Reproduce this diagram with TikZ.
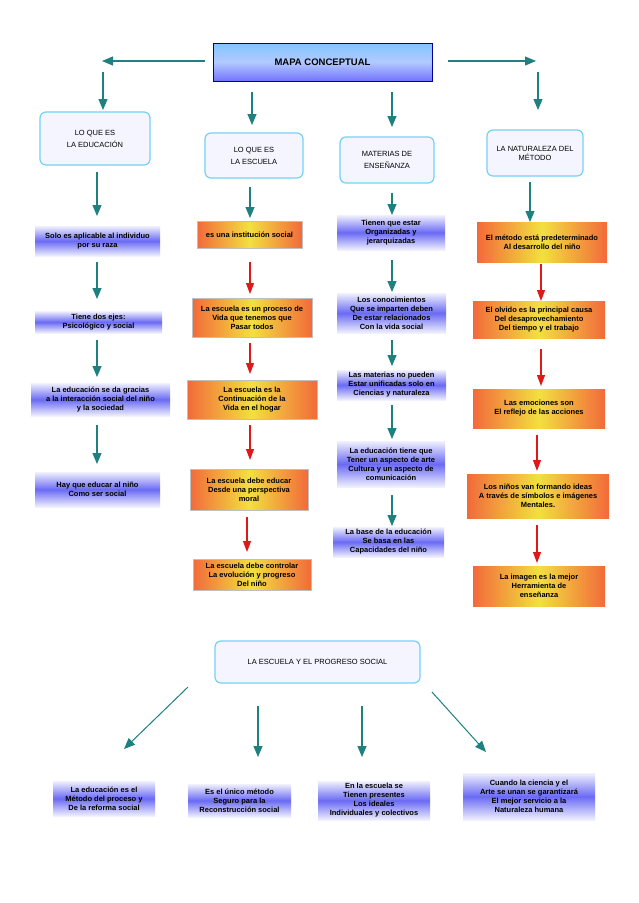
\documentclass[tikz,border=0pt]{standalone}
\usepackage{fontspec}
\setmainfont{Liberation Sans}
\usetikzlibrary{arrows.meta}
\definecolor{teal1}{HTML}{1F8080}
\definecolor{red1}{HTML}{E01818}
\definecolor{bl}{HTML}{5050F2}
\definecolor{or}{HTML}{F26A3A}
\definecolor{ye}{HTML}{F2E040}
\begin{document}
\begin{tikzpicture}[x=1pt,y=-1pt,
 base/.style={inner sep=0pt, align=center, font=\fontsize{7.5}{9}\selectfont\bfseries},
 blu/.style={base, top color=bl!8, bottom color=bl!8, middle color=bl!85},
 ora/.style={base, left color=or, right color=or, middle color=ye, draw=gray!50, line width=0.3pt},
 hdr/.style={base, font=\fontsize{7.5}{12}\selectfont, fill=blue!4, draw=cyan!55, line width=1.2pt, rounded corners=6pt},
 ta/.style={draw=teal1, line width=1.2pt, -{Triangle[length=11pt,width=9pt]}},
 ra/.style={draw=red1, line width=1.1pt, -{Triangle[length=11pt,width=8pt]}},
 bx/.style 2 args={minimum width=#1, minimum height=#2}]
\useasboundingbox (0,0) rectangle (638,903);
\fill[white] (0,0) rectangle (638,903);
% title
\node[base, font=\fontsize{9.5}{11}\selectfont\bfseries, top color=blue!45!cyan!50, bottom color=blue!55, middle color=cyan!30!blue!30, draw=blue!60!black, line width=0.5pt, bx={219}{38}] (t) at (322.5,62) {MAPA CONCEPTUAL};
% headers
\node[hdr, bx={110}{53}] (h1) at (95,138.5) {LO QUE ES\\LA EDUCACIÓN};
\node[hdr, bx={98}{45}] (h2) at (254,155.5) {LO QUE ES\\LA ESCUELA};
\node[hdr, bx={94}{46}] (h3) at (387,160) {MATERIAS DE\\ENSEÑANZA};
\node[hdr, font=\fontsize{7.5}{9}\selectfont, bx={96}{46}] (h4) at (535,153) {LA NATURALEZA DEL\\MÉTODO};
% top arrows
\coordinate (a1s) at (205,61); \coordinate (a1e) at (102,61);
\coordinate (a2s) at (103,72); \coordinate (a2e) at (103,110);
\coordinate (a3s) at (448,61); \coordinate (a3e) at (536,61);
\coordinate (a4s) at (538,72); \coordinate (a4e) at (538,110);
\coordinate (a5s) at (252,92); \coordinate (a5e) at (252,125);
\coordinate (a6s) at (392,92); \coordinate (a6e) at (392,127);
\draw[ta] (a1s)--(a1e); \draw[ta] (a2s)--(a2e);
\draw[ta] (a3s)--(a3e); \draw[ta] (a4s)--(a4e);
\draw[ta] (a5s)--(a5e); \draw[ta] (a6s)--(a6e);
% column 1
\node[blu, bx={125}{30}] (c11) at (97.5,241) {Solo es aplicable al individuo\\por su raza};
\node[blu, bx={127}{22}] (c12) at (98.5,322) {Tiene dos ejes:\\Psicológico y social};
\node[blu, bx={139}{33}] (c13) at (100.5,399.5) {La educación se da gracias\\a la interacción social del niño\\y la sociedad};
\node[blu, bx={125}{35}] (c14) at (97.5,489.5) {Hay que educar al niño\\Como ser social};
\foreach \a/\b/\n in {172/216/1,262/299/2,340/377/3,425/464/4}{
 \coordinate (p1\n) at (97,\a); \coordinate (q1\n) at (97,\b); \draw[ta] (p1\n)--(q1\n);}
% column 2
\node[ora, bx={105}{27}] (c21) at (249.5,234.5) {es una institución social};
\node[ora, bx={120}{39}] (c22) at (252,317.5) {La escuela es un proceso de\\Vida que tenemos que\\Pasar todos};
\node[ora, bx={130}{39}] (c23) at (252,399.5) {La escuela es la\\Continuación de la\\Vida en el hogar};
\node[ora, bx={118}{41}] (c24) at (249,489.5) {La escuela debe educar\\Desde una perspectiva\\moral};
\node[ora, bx={118}{31}] (c25) at (252,574.5) {La escuela debe controlar\\La evolución y progreso\\Del niño};
\coordinate (p20) at (250,187); \coordinate (q20) at (250,218); \draw[ta] (p20)--(q20);
\foreach \a/\b/\x/\n in {262/294/250/1,343/374/250/2,425/460/250/3,517/552/247/4}{
 \coordinate (p2\n) at (\x,\a); \coordinate (q2\n) at (\x,\b); \draw[ra] (p2\n)--(q2\n);}
% column 3
\node[blu, bx={108}{35}] (c31) at (391,232.5) {Tienen que estar\\Organizadas y\\jerarquizadas};
\node[blu, bx={109}{40}] (c32) at (391.5,313) {Los conocimientos\\Que se imparten deben\\De estar relacionados\\Con la vida social};
\node[blu, bx={109}{30}] (c33) at (391.5,385) {Las materias no pueden\\Estar unificadas solo en\\Ciencias y naturaleza};
\node[blu, bx={108}{46}] (c34) at (391,464) {La educación tiene que\\Tener un aspecto de arte\\Cultura y un aspecto de\\comunicación};
\node[blu, bx={111}{30}] (c35) at (388.5,542) {La base de la educación\\Se basa en las\\Capacidades del niño};
\foreach \a/\b/\n in {193/215/0,260/292/1,340/366/2,405/439/3,495/526/4}{
 \coordinate (p3\n) at (392,\a); \coordinate (q3\n) at (392,\b); \draw[ta] (p3\n)--(q3\n);}
% column 4
\node[ora, draw=none, bx={130}{40}] (c41) at (542,242) {El método está predeterminado\\Al desarrollo del niño};
\node[ora, draw=none, bx={132}{37}] (c42) at (539,319.5) {El olvido es la principal causa\\Del desaprovechamiento\\Del tiempo y el trabajo};
\node[ora, draw=none, bx={132}{39}] (c43) at (539,408.5) {Las emociones son\\El reflejo de las acciones};
\node[ora, draw=none, bx={142}{44}] (c44) at (538,496) {Los niños van formando ideas\\A través de símbolos e imágenes\\Mentales.};
\node[ora, draw=none, bx={132}{40}] (c45) at (539,586) {La imagen es la mejor\\Herramienta de\\enseñanza};
\coordinate (p40) at (530,182); \coordinate (q40) at (530,222); \draw[ta] (p40)--(q40);
\foreach \a/\b/\x/\n in {264/301/541/1,349/386/541/2,435/471/537/3,525/563/537/4}{
 \coordinate (p4\n) at (\x,\a); \coordinate (q4\n) at (\x,\b); \draw[ra] (p4\n)--(q4\n);}
% bottom
\node[hdr, bx={205}{42}] (h5) at (317.5,662) {LA ESCUELA Y EL PROGRESO SOCIAL};
\coordinate (b1s) at (188,687); \coordinate (b1e) at (124,749);
\coordinate (b2s) at (258,706); \coordinate (b2e) at (258,757);
\coordinate (b3s) at (362,706); \coordinate (b3e) at (362,757);
\coordinate (b4s) at (432,692); \coordinate (b4e) at (486,752);
\draw[ta, line width=1pt] (b1s)--(b1e); \draw[ta] (b2s)--(b2e);
\draw[ta] (b3s)--(b3e); \draw[ta, line width=1pt] (b4s)--(b4e);
\node[blu, bx={102}{35}] (d1) at (104,798.5) {La educación es el\\Método del proceso y\\De la reforma social};
\node[blu, bx={103}{33}] (d2) at (239.5,800.5) {Es el único método\\Seguro para la\\Reconstrucción social};
\node[blu, bx={112}{39}] (d3) at (374,800.5) {En la escuela se\\Tienen presentes\\Los ideales\\Individuales y colectivos};
\node[blu, bx={132}{47}] (d4) at (529,796.5) {Cuando la ciencia y el\\Arte se unan se garantizará\\El mejor servicio a la\\Naturaleza humana};
\end{tikzpicture}
\end{document}
